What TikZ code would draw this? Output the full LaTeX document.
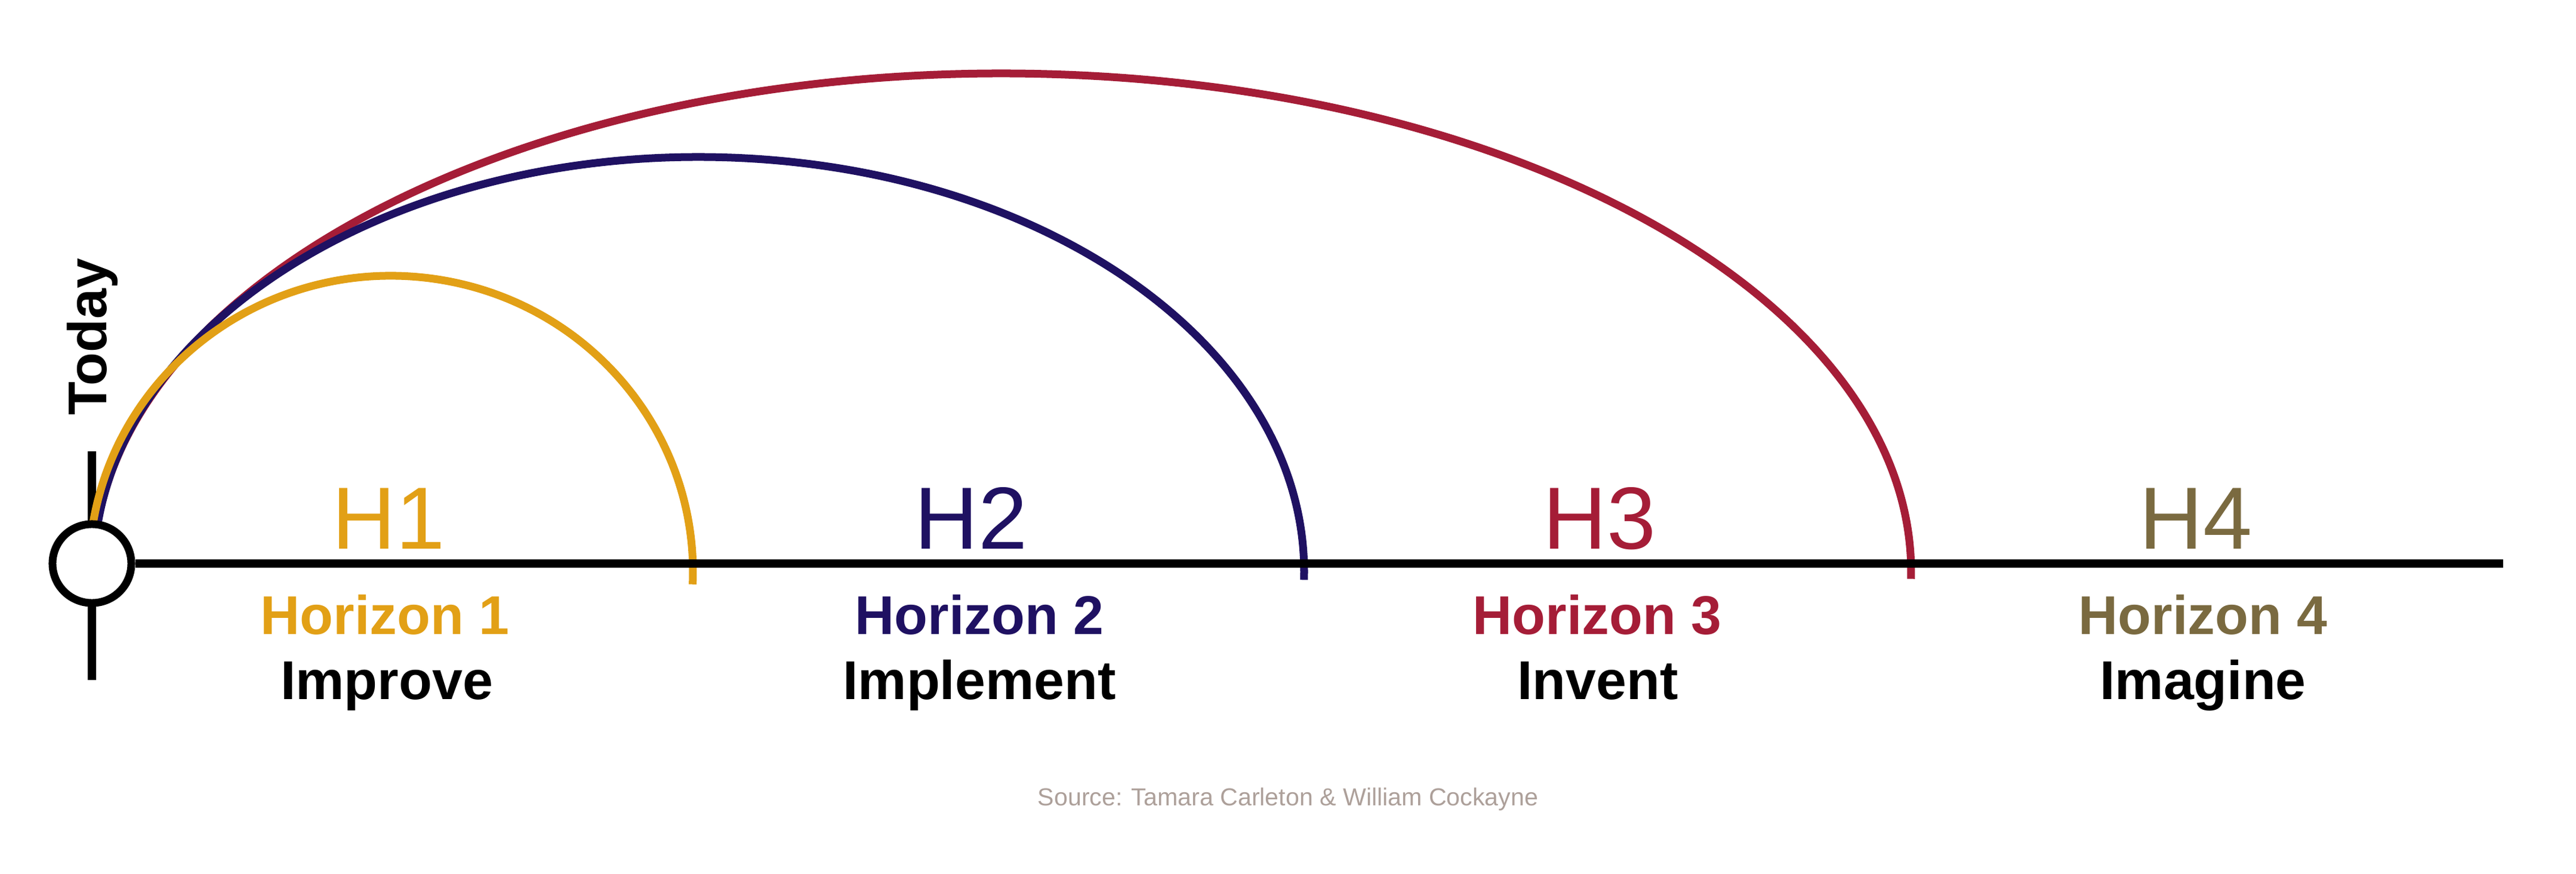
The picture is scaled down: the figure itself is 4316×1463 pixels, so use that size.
\documentclass[tikz,border=0pt]{standalone}
\usepackage{fontspec}
\setmainfont{Liberation Sans}
\definecolor{hone}{HTML}{E2A016}
\definecolor{htwo}{HTML}{1F1162}
\definecolor{hthree}{HTML}{A51D37}
\definecolor{hfour}{HTML}{7A6A40}
\definecolor{srcgray}{HTML}{ADA09A}
\begin{document}
\begin{tikzpicture}[x=0.01cm, y=0.01cm,
        axisline/.style={line width=1.3mm},
        hlabel/.style={anchor=base, font=\fontsize{42}{48}\selectfont},
        hname/.style={anchor=base, font=\fontsize{26}{30}\selectfont\bfseries}]
        \useasboundingbox (0,0) rectangle (4316,1463);

        \coordinate (TickTop) at (154,707);
        \coordinate (TickBot) at (154,324);
        \coordinate (AxisEnd) at (4194,519);

        \draw[axisline] (TickTop) -- (TickBot);

        \draw[axisline, hthree] (1679,505) ++(176:1523 and 835) arc[start angle=176, end angle=-0.8, x radius=1523, y radius=835];
        \draw[axisline, htwo] (1171,505) ++(176:1014 and 695) arc[start angle=176, end angle=-1.1, x radius=1014, y radius=695];
        \draw[axisline, hone] (655,505) ++(171:506 and 496) arc[start angle=171, end angle=-2.4, x radius=506, y radius=496];

        \node[axisline, draw, fill=white, circle, minimum size=13.2mm, inner sep=0pt] (Now) at (154,519) {};
        \draw[axisline] (Now) -- (AxisEnd);

        \node[hname, rotate=90] (Today) at (178,899) {Today};

        \node[hlabel, hone] (H1) at (651,544) {H1};
        \node[hlabel, htwo] (H2) at (1627,544) {H2};
        \node[hlabel, hthree] (H3) at (2680,544) {H3};
        \node[hlabel, hfour] (H4) at (3679,544) {H4};

        \node[hname, hone] (Hor1) at (645,401) {Horizon 1};
        \node[hname, htwo] (Hor2) at (1641,401) {Horizon 2};
        \node[hname, hthree] (Hor3) at (2676,401) {Horizon 3};
        \node[hname, hfour] (Hor4) at (3691,401) {Horizon 4};

        \node[hname] (Improve) at (648,292) {Improve};
        \node[hname] (Implement) at (1641,292) {Implement};
        \node[hname] (Invent) at (2677,292) {Invent};
        \node[hname] (Imagine) at (3691,292) {Imagine};

        \node[anchor=base, srcgray, font=\fontsize{11.7}{14}\selectfont] (Source) at (2158,114) {Source: Tamara Carleton \& William Cockayne};
    \end{tikzpicture}
\end{document}
